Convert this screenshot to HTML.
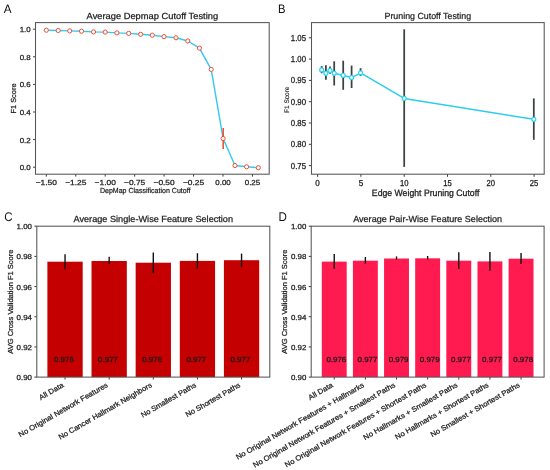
<!DOCTYPE html>
<html><head><meta charset="utf-8"><style>
html,body{margin:0;padding:0;background:#fff;overflow:hidden;}
svg{display:block;font-family:"Liberation Sans", sans-serif;will-change:transform;text-rendering:geometricPrecision;}
</style></head><body>
<svg width="550" height="470" viewBox="0 0 550 470">
<rect width="550" height="470" fill="#fff"/>
<text x="152.35" y="19.20" font-size="8.85" text-anchor="middle" fill="#1e1e1e" stroke="#1e1e1e" stroke-width="0.25" textLength="131.49" lengthAdjust="spacingAndGlyphs" >Average Depmap Cutoff Testing</text>
<text transform="translate(3.8,12.6) scale(0.96,1)" font-size="12.2" fill="#111">A</text>
<line x1="33.10" y1="167.20" x2="35.5" y2="167.20" stroke="#3a3a3a" stroke-width="1.0"/>
<text x="30.66" y="170.15" font-size="7.3" text-anchor="end" fill="#1e1e1e" stroke="#1e1e1e" stroke-width="0.25" textLength="11.01" lengthAdjust="spacingAndGlyphs" >0.0</text>
<line x1="33.10" y1="139.60" x2="35.5" y2="139.60" stroke="#3a3a3a" stroke-width="1.0"/>
<text x="30.66" y="142.55" font-size="7.3" text-anchor="end" fill="#1e1e1e" stroke="#1e1e1e" stroke-width="0.25" textLength="11.01" lengthAdjust="spacingAndGlyphs" >0.2</text>
<line x1="33.10" y1="112.00" x2="35.5" y2="112.00" stroke="#3a3a3a" stroke-width="1.0"/>
<text x="30.66" y="114.95" font-size="7.3" text-anchor="end" fill="#1e1e1e" stroke="#1e1e1e" stroke-width="0.25" textLength="11.01" lengthAdjust="spacingAndGlyphs" >0.4</text>
<line x1="33.10" y1="84.40" x2="35.5" y2="84.40" stroke="#3a3a3a" stroke-width="1.0"/>
<text x="30.66" y="87.35" font-size="7.3" text-anchor="end" fill="#1e1e1e" stroke="#1e1e1e" stroke-width="0.25" textLength="11.01" lengthAdjust="spacingAndGlyphs" >0.6</text>
<line x1="33.10" y1="56.80" x2="35.5" y2="56.80" stroke="#3a3a3a" stroke-width="1.0"/>
<text x="30.66" y="59.75" font-size="7.3" text-anchor="end" fill="#1e1e1e" stroke="#1e1e1e" stroke-width="0.25" textLength="11.01" lengthAdjust="spacingAndGlyphs" >0.8</text>
<line x1="33.10" y1="29.20" x2="35.5" y2="29.20" stroke="#3a3a3a" stroke-width="1.0"/>
<text x="30.66" y="32.15" font-size="7.3" text-anchor="end" fill="#1e1e1e" stroke="#1e1e1e" stroke-width="0.25" textLength="11.01" lengthAdjust="spacingAndGlyphs" >1.0</text>
<line x1="46.30" y1="174.2" x2="46.30" y2="176.6" stroke="#3a3a3a" stroke-width="1.0"/>
<text x="46.30" y="184.80" font-size="7.3" text-anchor="middle" fill="#1e1e1e" stroke="#1e1e1e" stroke-width="0.25" textLength="21.21" lengthAdjust="spacingAndGlyphs" >−1.50</text>
<line x1="75.75" y1="174.2" x2="75.75" y2="176.6" stroke="#3a3a3a" stroke-width="1.0"/>
<text x="75.75" y="184.80" font-size="7.3" text-anchor="middle" fill="#1e1e1e" stroke="#1e1e1e" stroke-width="0.25" textLength="21.21" lengthAdjust="spacingAndGlyphs" >−1.25</text>
<line x1="105.20" y1="174.2" x2="105.20" y2="176.6" stroke="#3a3a3a" stroke-width="1.0"/>
<text x="105.20" y="184.80" font-size="7.3" text-anchor="middle" fill="#1e1e1e" stroke="#1e1e1e" stroke-width="0.25" textLength="21.21" lengthAdjust="spacingAndGlyphs" >−1.00</text>
<line x1="134.65" y1="174.2" x2="134.65" y2="176.6" stroke="#3a3a3a" stroke-width="1.0"/>
<text x="134.65" y="184.80" font-size="7.3" text-anchor="middle" fill="#1e1e1e" stroke="#1e1e1e" stroke-width="0.25" textLength="21.21" lengthAdjust="spacingAndGlyphs" >−0.75</text>
<line x1="164.10" y1="174.2" x2="164.10" y2="176.6" stroke="#3a3a3a" stroke-width="1.0"/>
<text x="164.10" y="184.80" font-size="7.3" text-anchor="middle" fill="#1e1e1e" stroke="#1e1e1e" stroke-width="0.25" textLength="21.21" lengthAdjust="spacingAndGlyphs" >−0.50</text>
<line x1="193.55" y1="174.2" x2="193.55" y2="176.6" stroke="#3a3a3a" stroke-width="1.0"/>
<text x="193.55" y="184.80" font-size="7.3" text-anchor="middle" fill="#1e1e1e" stroke="#1e1e1e" stroke-width="0.25" textLength="21.21" lengthAdjust="spacingAndGlyphs" >−0.25</text>
<line x1="223.00" y1="174.2" x2="223.00" y2="176.6" stroke="#3a3a3a" stroke-width="1.0"/>
<text x="223.00" y="184.80" font-size="7.3" text-anchor="middle" fill="#1e1e1e" stroke="#1e1e1e" stroke-width="0.25" textLength="15.41" lengthAdjust="spacingAndGlyphs" >0.00</text>
<line x1="252.45" y1="174.2" x2="252.45" y2="176.6" stroke="#3a3a3a" stroke-width="1.0"/>
<text x="252.45" y="184.80" font-size="7.3" text-anchor="middle" fill="#1e1e1e" stroke="#1e1e1e" stroke-width="0.25" textLength="15.41" lengthAdjust="spacingAndGlyphs" >0.25</text>
<text x="145.20" y="192.90" font-size="7.4" text-anchor="middle" fill="#1e1e1e" stroke="#1e1e1e" stroke-width="0.22" textLength="90.50" lengthAdjust="spacingAndGlyphs" >DepMap Classification Cutoff</text>
<text transform="translate(16.40,98.50) rotate(-90)" font-size="7.3" text-anchor="middle" fill="#1e1e1e" stroke="#1e1e1e" stroke-width="0.25" textLength="29.96" lengthAdjust="spacingAndGlyphs">F1 Score</text>
<polyline points="46.3,30.2 58.2,30.5 69.7,30.9 81.5,31.2 93.5,31.9 105.2,32.1 116.9,32.9 128.7,33.4 140.6,34.3 152.3,35.2 164.0,36.6 176.0,37.8 187.8,41.0 199.4,48.1 211.2,69.4 223.1,138.5 235.0,165.5 246.6,166.8 258.3,167.7" fill="none" stroke="#36c8ef" stroke-width="1.45" stroke-linejoin="round"/>
<line x1="223.2" y1="127.9" x2="223.2" y2="149.0" stroke="#ee4a2c" stroke-width="1.5"/>
<circle cx="46.3" cy="30.2" r="2.1" fill="#fff" stroke="#ee5034" stroke-width="1.0"/>
<circle cx="58.2" cy="30.5" r="2.1" fill="#fff" stroke="#ee5034" stroke-width="1.0"/>
<circle cx="69.7" cy="30.9" r="2.1" fill="#fff" stroke="#ee5034" stroke-width="1.0"/>
<circle cx="81.5" cy="31.2" r="2.1" fill="#fff" stroke="#ee5034" stroke-width="1.0"/>
<circle cx="93.5" cy="31.9" r="2.1" fill="#fff" stroke="#ee5034" stroke-width="1.0"/>
<circle cx="105.2" cy="32.1" r="2.1" fill="#fff" stroke="#ee5034" stroke-width="1.0"/>
<circle cx="116.9" cy="32.9" r="2.1" fill="#fff" stroke="#ee5034" stroke-width="1.0"/>
<circle cx="128.7" cy="33.4" r="2.1" fill="#fff" stroke="#ee5034" stroke-width="1.0"/>
<circle cx="140.6" cy="34.3" r="2.1" fill="#fff" stroke="#ee5034" stroke-width="1.0"/>
<circle cx="152.3" cy="35.2" r="2.1" fill="#fff" stroke="#ee5034" stroke-width="1.0"/>
<circle cx="164.0" cy="36.6" r="2.1" fill="#fff" stroke="#ee5034" stroke-width="1.0"/>
<circle cx="176.0" cy="37.8" r="2.1" fill="#fff" stroke="#ee5034" stroke-width="1.0"/>
<circle cx="187.8" cy="41.0" r="2.1" fill="#fff" stroke="#ee5034" stroke-width="1.0"/>
<circle cx="199.4" cy="48.1" r="2.1" fill="#fff" stroke="#ee5034" stroke-width="1.0"/>
<circle cx="211.2" cy="69.4" r="2.1" fill="#fff" stroke="#ee5034" stroke-width="1.0"/>
<circle cx="223.1" cy="138.5" r="2.1" fill="#fff" stroke="#ee5034" stroke-width="1.0"/>
<circle cx="235.0" cy="165.5" r="2.1" fill="#fff" stroke="#ee5034" stroke-width="1.0"/>
<circle cx="246.6" cy="166.8" r="2.1" fill="#fff" stroke="#ee5034" stroke-width="1.0"/>
<circle cx="258.3" cy="167.7" r="2.1" fill="#fff" stroke="#ee5034" stroke-width="1.0"/>
<rect x="35.5" y="22.6" width="233.70" height="151.60" fill="none" stroke="#555" stroke-width="1.05"/>
<text x="427.80" y="18.60" font-size="8.9" text-anchor="middle" fill="#1e1e1e" stroke="#1e1e1e" stroke-width="0.22" textLength="86.50" lengthAdjust="spacingAndGlyphs" >Pruning Cutoff Testing</text>
<text transform="translate(277.9,12.6) scale(0.92,1)" font-size="12.2" fill="#111">B</text>
<line x1="308.90" y1="165.60" x2="311.5" y2="165.60" stroke="#3a3a3a" stroke-width="1.0"/>
<text x="306.00" y="168.60" font-size="8.7" text-anchor="end" fill="#1e1e1e" stroke="#1e1e1e" stroke-width="0.28" textLength="15.20" lengthAdjust="spacingAndGlyphs" >0.75</text>
<line x1="308.90" y1="144.30" x2="311.5" y2="144.30" stroke="#3a3a3a" stroke-width="1.0"/>
<text x="306.00" y="147.30" font-size="8.7" text-anchor="end" fill="#1e1e1e" stroke="#1e1e1e" stroke-width="0.28" textLength="15.20" lengthAdjust="spacingAndGlyphs" >0.80</text>
<line x1="308.90" y1="123.00" x2="311.5" y2="123.00" stroke="#3a3a3a" stroke-width="1.0"/>
<text x="306.00" y="126.00" font-size="8.7" text-anchor="end" fill="#1e1e1e" stroke="#1e1e1e" stroke-width="0.28" textLength="15.20" lengthAdjust="spacingAndGlyphs" >0.85</text>
<line x1="308.90" y1="101.70" x2="311.5" y2="101.70" stroke="#3a3a3a" stroke-width="1.0"/>
<text x="306.00" y="104.70" font-size="8.7" text-anchor="end" fill="#1e1e1e" stroke="#1e1e1e" stroke-width="0.28" textLength="15.20" lengthAdjust="spacingAndGlyphs" >0.90</text>
<line x1="308.90" y1="80.40" x2="311.5" y2="80.40" stroke="#3a3a3a" stroke-width="1.0"/>
<text x="306.00" y="83.40" font-size="8.7" text-anchor="end" fill="#1e1e1e" stroke="#1e1e1e" stroke-width="0.28" textLength="15.20" lengthAdjust="spacingAndGlyphs" >0.95</text>
<line x1="308.90" y1="59.10" x2="311.5" y2="59.10" stroke="#3a3a3a" stroke-width="1.0"/>
<text x="306.00" y="62.10" font-size="8.7" text-anchor="end" fill="#1e1e1e" stroke="#1e1e1e" stroke-width="0.28" textLength="15.20" lengthAdjust="spacingAndGlyphs" >1.00</text>
<line x1="308.90" y1="37.80" x2="311.5" y2="37.80" stroke="#3a3a3a" stroke-width="1.0"/>
<text x="306.00" y="40.80" font-size="8.7" text-anchor="end" fill="#1e1e1e" stroke="#1e1e1e" stroke-width="0.28" textLength="15.20" lengthAdjust="spacingAndGlyphs" >1.05</text>
<line x1="317.60" y1="174.2" x2="317.60" y2="176.79999999999998" stroke="#3a3a3a" stroke-width="1.0"/>
<text x="317.60" y="185.80" font-size="8.7" text-anchor="middle" fill="#1e1e1e" stroke="#1e1e1e" stroke-width="0.28" textLength="4.50" lengthAdjust="spacingAndGlyphs" >0</text>
<line x1="360.90" y1="174.2" x2="360.90" y2="176.79999999999998" stroke="#3a3a3a" stroke-width="1.0"/>
<text x="360.90" y="185.80" font-size="8.7" text-anchor="middle" fill="#1e1e1e" stroke="#1e1e1e" stroke-width="0.28" textLength="4.50" lengthAdjust="spacingAndGlyphs" >5</text>
<line x1="404.20" y1="174.2" x2="404.20" y2="176.79999999999998" stroke="#3a3a3a" stroke-width="1.0"/>
<text x="404.20" y="185.80" font-size="8.7" text-anchor="middle" fill="#1e1e1e" stroke="#1e1e1e" stroke-width="0.28" textLength="8.50" lengthAdjust="spacingAndGlyphs" >10</text>
<line x1="447.50" y1="174.2" x2="447.50" y2="176.79999999999998" stroke="#3a3a3a" stroke-width="1.0"/>
<text x="447.50" y="185.80" font-size="8.7" text-anchor="middle" fill="#1e1e1e" stroke="#1e1e1e" stroke-width="0.28" textLength="8.50" lengthAdjust="spacingAndGlyphs" >15</text>
<line x1="490.80" y1="174.2" x2="490.80" y2="176.79999999999998" stroke="#3a3a3a" stroke-width="1.0"/>
<text x="490.80" y="185.80" font-size="8.7" text-anchor="middle" fill="#1e1e1e" stroke="#1e1e1e" stroke-width="0.28" textLength="8.50" lengthAdjust="spacingAndGlyphs" >20</text>
<line x1="534.10" y1="174.2" x2="534.10" y2="176.79999999999998" stroke="#3a3a3a" stroke-width="1.0"/>
<text x="534.10" y="185.80" font-size="8.7" text-anchor="middle" fill="#1e1e1e" stroke="#1e1e1e" stroke-width="0.28" textLength="8.50" lengthAdjust="spacingAndGlyphs" >25</text>
<text x="425.60" y="196.00" font-size="9.2" text-anchor="middle" fill="#1e1e1e" stroke="#1e1e1e" stroke-width="0.3" textLength="107.50" lengthAdjust="spacingAndGlyphs" >Edge Weight Pruning Cutoff</text>
<text transform="translate(289.10,99.80) rotate(-90)" font-size="6.6" text-anchor="middle" fill="#1e1e1e" stroke="#1e1e1e" stroke-width="0.15" textLength="26.50" lengthAdjust="spacingAndGlyphs">F1 Score</text>
<line x1="321.7" y1="66.1" x2="321.7" y2="73.3" stroke="#3a4242" stroke-width="1.75"/>
<line x1="325.9" y1="65.2" x2="325.9" y2="79.7" stroke="#3a4242" stroke-width="1.75"/>
<line x1="330.0" y1="66.5" x2="330.0" y2="73.8" stroke="#3a4242" stroke-width="1.75"/>
<line x1="334.2" y1="61.3" x2="334.2" y2="85.5" stroke="#3a4242" stroke-width="1.75"/>
<line x1="343.2" y1="60.7" x2="343.2" y2="89.8" stroke="#3a4242" stroke-width="1.75"/>
<line x1="351.6" y1="65.6" x2="351.6" y2="88.0" stroke="#3a4242" stroke-width="1.75"/>
<line x1="360.6" y1="68.2" x2="360.6" y2="75.9" stroke="#3a4242" stroke-width="1.75"/>
<line x1="404.2" y1="29.3" x2="404.2" y2="166.9" stroke="#3a4242" stroke-width="1.75"/>
<line x1="533.8" y1="98.4" x2="533.8" y2="139.8" stroke="#3a4242" stroke-width="1.75"/>
<polyline points="321.7,69.9 325.9,73.3 330.0,70.4 334.2,73.3 343.2,75.4 351.6,77.6 360.6,72.9 404.2,98.4 533.8,119.3" fill="none" stroke="#2ccdee" stroke-width="1.5" stroke-linejoin="round"/>
<circle cx="321.7" cy="69.9" r="2.0" fill="#fff" stroke="#2cd4ee" stroke-width="1.2"/>
<circle cx="325.9" cy="73.3" r="2.0" fill="#fff" stroke="#2cd4ee" stroke-width="1.2"/>
<circle cx="330.0" cy="70.4" r="2.0" fill="#fff" stroke="#2cd4ee" stroke-width="1.2"/>
<circle cx="334.2" cy="73.3" r="2.0" fill="#fff" stroke="#2cd4ee" stroke-width="1.2"/>
<circle cx="343.2" cy="75.4" r="2.0" fill="#fff" stroke="#2cd4ee" stroke-width="1.2"/>
<circle cx="351.6" cy="77.6" r="2.0" fill="#fff" stroke="#2cd4ee" stroke-width="1.2"/>
<circle cx="360.6" cy="72.9" r="2.0" fill="#fff" stroke="#2cd4ee" stroke-width="1.2"/>
<circle cx="404.2" cy="98.4" r="2.0" fill="#fff" stroke="#2cd4ee" stroke-width="1.2"/>
<circle cx="533.8" cy="119.3" r="2.0" fill="#fff" stroke="#2cd4ee" stroke-width="1.2"/>
<rect x="311.5" y="22.6" width="232.70" height="151.60" fill="none" stroke="#555" stroke-width="1.05"/>
<rect x="47.39" y="261.70" width="35.30" height="115.40" fill="#c40000"/>
<rect x="91.52" y="261.00" width="35.30" height="116.10" fill="#c40000"/>
<rect x="135.65" y="262.70" width="35.30" height="114.40" fill="#c40000"/>
<rect x="179.78" y="260.90" width="35.30" height="116.20" fill="#c40000"/>
<rect x="223.91" y="260.20" width="35.30" height="116.90" fill="#c40000"/>
<line x1="65.04" y1="254.3" x2="65.04" y2="269.2" stroke="#111" stroke-width="1.4"/>
<line x1="109.17" y1="256.8" x2="109.17" y2="264.0" stroke="#111" stroke-width="1.4"/>
<line x1="153.30" y1="252.5" x2="153.30" y2="273.6" stroke="#111" stroke-width="1.4"/>
<line x1="197.43" y1="253.2" x2="197.43" y2="268.4" stroke="#111" stroke-width="1.4"/>
<line x1="241.56" y1="253.6" x2="241.56" y2="266.8" stroke="#111" stroke-width="1.4"/>
<text x="54.01" y="362.01" font-size="7.3" text-anchor="start" fill="#1a1a1a" stroke="#1a1a1a" stroke-width="0.25" textLength="19.81" lengthAdjust="spacingAndGlyphs" >0.976</text>
<text x="98.14" y="362.01" font-size="7.3" text-anchor="start" fill="#1a1a1a" stroke="#1a1a1a" stroke-width="0.25" textLength="19.81" lengthAdjust="spacingAndGlyphs" >0.977</text>
<text x="142.27" y="362.01" font-size="7.3" text-anchor="start" fill="#1a1a1a" stroke="#1a1a1a" stroke-width="0.25" textLength="19.81" lengthAdjust="spacingAndGlyphs" >0.976</text>
<text x="186.40" y="362.01" font-size="7.3" text-anchor="start" fill="#1a1a1a" stroke="#1a1a1a" stroke-width="0.25" textLength="19.81" lengthAdjust="spacingAndGlyphs" >0.977</text>
<text x="230.53" y="362.01" font-size="7.3" text-anchor="start" fill="#1a1a1a" stroke="#1a1a1a" stroke-width="0.25" textLength="19.81" lengthAdjust="spacingAndGlyphs" >0.977</text>
<line x1="34.40" y1="377.10" x2="36.8" y2="377.10" stroke="#3a3a3a" stroke-width="1.0"/>
<text x="31.96" y="380.05" font-size="7.3" text-anchor="end" fill="#1e1e1e" stroke="#1e1e1e" stroke-width="0.25" textLength="15.41" lengthAdjust="spacingAndGlyphs" >0.90</text>
<line x1="34.40" y1="346.92" x2="36.8" y2="346.92" stroke="#3a3a3a" stroke-width="1.0"/>
<text x="31.96" y="349.87" font-size="7.3" text-anchor="end" fill="#1e1e1e" stroke="#1e1e1e" stroke-width="0.25" textLength="15.41" lengthAdjust="spacingAndGlyphs" >0.92</text>
<line x1="34.40" y1="316.74" x2="36.8" y2="316.74" stroke="#3a3a3a" stroke-width="1.0"/>
<text x="31.96" y="319.69" font-size="7.3" text-anchor="end" fill="#1e1e1e" stroke="#1e1e1e" stroke-width="0.25" textLength="15.41" lengthAdjust="spacingAndGlyphs" >0.94</text>
<line x1="34.40" y1="286.56" x2="36.8" y2="286.56" stroke="#3a3a3a" stroke-width="1.0"/>
<text x="31.96" y="289.51" font-size="7.3" text-anchor="end" fill="#1e1e1e" stroke="#1e1e1e" stroke-width="0.25" textLength="15.41" lengthAdjust="spacingAndGlyphs" >0.96</text>
<line x1="34.40" y1="256.38" x2="36.8" y2="256.38" stroke="#3a3a3a" stroke-width="1.0"/>
<text x="31.96" y="259.33" font-size="7.3" text-anchor="end" fill="#1e1e1e" stroke="#1e1e1e" stroke-width="0.25" textLength="15.41" lengthAdjust="spacingAndGlyphs" >0.98</text>
<line x1="34.40" y1="226.20" x2="36.8" y2="226.20" stroke="#3a3a3a" stroke-width="1.0"/>
<text x="31.96" y="229.15" font-size="7.3" text-anchor="end" fill="#1e1e1e" stroke="#1e1e1e" stroke-width="0.25" textLength="15.41" lengthAdjust="spacingAndGlyphs" >1.00</text>
<line x1="65.04" y1="377.1" x2="65.04" y2="379.5" stroke="#3a3a3a" stroke-width="1.0"/>
<line x1="109.17" y1="377.1" x2="109.17" y2="379.5" stroke="#3a3a3a" stroke-width="1.0"/>
<line x1="153.30" y1="377.1" x2="153.30" y2="379.5" stroke="#3a3a3a" stroke-width="1.0"/>
<line x1="197.43" y1="377.1" x2="197.43" y2="379.5" stroke="#3a3a3a" stroke-width="1.0"/>
<line x1="241.56" y1="377.1" x2="241.56" y2="379.5" stroke="#3a3a3a" stroke-width="1.0"/>
<rect x="36.8" y="226.2" width="233.00" height="150.90" fill="none" stroke="#555" stroke-width="1.05"/>
<text x="153.30" y="222.20" font-size="8.85" text-anchor="middle" fill="#1e1e1e" stroke="#1e1e1e" stroke-width="0.25" textLength="159.55" lengthAdjust="spacingAndGlyphs" >Average Single-Wise Feature Selection</text>
<text transform="translate(4.20,221.4) scale(0.92,1)" font-size="12.6" fill="#111">C</text>
<text transform="translate(12.90,301.65) rotate(-90)" font-size="7.3" text-anchor="middle" fill="#1e1e1e" stroke="#1e1e1e" stroke-width="0.25" textLength="104.09" lengthAdjust="spacingAndGlyphs">AVG Cross Validation F1 Score</text>
<text transform="translate(64.32,386.49) rotate(-30)" font-size="7.3" text-anchor="end" fill="#1e1e1e" stroke="#1e1e1e" stroke-width="0.25" textLength="27.30" lengthAdjust="spacingAndGlyphs">All Data</text>
<text transform="translate(108.45,386.49) rotate(-30)" font-size="7.3" text-anchor="end" fill="#1e1e1e" stroke="#1e1e1e" stroke-width="0.25" textLength="101.74" lengthAdjust="spacingAndGlyphs">No Original Network Features</text>
<text transform="translate(152.58,386.49) rotate(-30)" font-size="7.3" text-anchor="end" fill="#1e1e1e" stroke="#1e1e1e" stroke-width="0.25" textLength="106.71" lengthAdjust="spacingAndGlyphs">No Cancer Hallmark Neighbors</text>
<text transform="translate(196.71,386.49) rotate(-30)" font-size="7.3" text-anchor="end" fill="#1e1e1e" stroke="#1e1e1e" stroke-width="0.25" textLength="62.41" lengthAdjust="spacingAndGlyphs">No Smallest Paths</text>
<text transform="translate(240.84,386.49) rotate(-30)" font-size="7.3" text-anchor="end" fill="#1e1e1e" stroke="#1e1e1e" stroke-width="0.25" textLength="61.76" lengthAdjust="spacingAndGlyphs">No Shortest Paths</text>
<rect x="321.79" y="261.60" width="24.91" height="115.50" fill="#ff1a4f"/>
<rect x="352.92" y="260.70" width="24.91" height="116.40" fill="#ff1a4f"/>
<rect x="384.06" y="258.50" width="24.91" height="118.60" fill="#ff1a4f"/>
<rect x="415.20" y="258.30" width="24.91" height="118.80" fill="#ff1a4f"/>
<rect x="446.33" y="260.70" width="24.91" height="116.40" fill="#ff1a4f"/>
<rect x="477.47" y="261.40" width="24.91" height="115.70" fill="#ff1a4f"/>
<rect x="508.60" y="258.70" width="24.91" height="118.40" fill="#ff1a4f"/>
<line x1="334.24" y1="254.1" x2="334.24" y2="268.8" stroke="#111" stroke-width="1.4"/>
<line x1="365.38" y1="257.0" x2="365.38" y2="263.6" stroke="#111" stroke-width="1.4"/>
<line x1="396.51" y1="256.4" x2="396.51" y2="259.6" stroke="#111" stroke-width="1.4"/>
<line x1="427.65" y1="256.0" x2="427.65" y2="259.6" stroke="#111" stroke-width="1.4"/>
<line x1="458.79" y1="252.3" x2="458.79" y2="268.9" stroke="#111" stroke-width="1.4"/>
<line x1="489.92" y1="251.9" x2="489.92" y2="270.8" stroke="#111" stroke-width="1.4"/>
<line x1="521.06" y1="253.0" x2="521.06" y2="264.1" stroke="#111" stroke-width="1.4"/>
<text x="326.46" y="362.01" font-size="7.3" text-anchor="start" fill="#1a1a1a" stroke="#1a1a1a" stroke-width="0.25" textLength="19.81" lengthAdjust="spacingAndGlyphs" >0.976</text>
<text x="357.59" y="362.01" font-size="7.3" text-anchor="start" fill="#1a1a1a" stroke="#1a1a1a" stroke-width="0.25" textLength="19.81" lengthAdjust="spacingAndGlyphs" >0.977</text>
<text x="388.73" y="362.01" font-size="7.3" text-anchor="start" fill="#1a1a1a" stroke="#1a1a1a" stroke-width="0.25" textLength="19.81" lengthAdjust="spacingAndGlyphs" >0.979</text>
<text x="419.87" y="362.01" font-size="7.3" text-anchor="start" fill="#1a1a1a" stroke="#1a1a1a" stroke-width="0.25" textLength="19.81" lengthAdjust="spacingAndGlyphs" >0.979</text>
<text x="451.00" y="362.01" font-size="7.3" text-anchor="start" fill="#1a1a1a" stroke="#1a1a1a" stroke-width="0.25" textLength="19.81" lengthAdjust="spacingAndGlyphs" >0.977</text>
<text x="482.14" y="362.01" font-size="7.3" text-anchor="start" fill="#1a1a1a" stroke="#1a1a1a" stroke-width="0.25" textLength="19.81" lengthAdjust="spacingAndGlyphs" >0.977</text>
<text x="513.28" y="362.01" font-size="7.3" text-anchor="start" fill="#1a1a1a" stroke="#1a1a1a" stroke-width="0.25" textLength="19.81" lengthAdjust="spacingAndGlyphs" >0.978</text>
<line x1="308.80" y1="377.10" x2="311.2" y2="377.10" stroke="#3a3a3a" stroke-width="1.0"/>
<text x="306.36" y="380.05" font-size="7.3" text-anchor="end" fill="#1e1e1e" stroke="#1e1e1e" stroke-width="0.25" textLength="15.41" lengthAdjust="spacingAndGlyphs" >0.90</text>
<line x1="308.80" y1="346.92" x2="311.2" y2="346.92" stroke="#3a3a3a" stroke-width="1.0"/>
<text x="306.36" y="349.87" font-size="7.3" text-anchor="end" fill="#1e1e1e" stroke="#1e1e1e" stroke-width="0.25" textLength="15.41" lengthAdjust="spacingAndGlyphs" >0.92</text>
<line x1="308.80" y1="316.74" x2="311.2" y2="316.74" stroke="#3a3a3a" stroke-width="1.0"/>
<text x="306.36" y="319.69" font-size="7.3" text-anchor="end" fill="#1e1e1e" stroke="#1e1e1e" stroke-width="0.25" textLength="15.41" lengthAdjust="spacingAndGlyphs" >0.94</text>
<line x1="308.80" y1="286.56" x2="311.2" y2="286.56" stroke="#3a3a3a" stroke-width="1.0"/>
<text x="306.36" y="289.51" font-size="7.3" text-anchor="end" fill="#1e1e1e" stroke="#1e1e1e" stroke-width="0.25" textLength="15.41" lengthAdjust="spacingAndGlyphs" >0.96</text>
<line x1="308.80" y1="256.38" x2="311.2" y2="256.38" stroke="#3a3a3a" stroke-width="1.0"/>
<text x="306.36" y="259.33" font-size="7.3" text-anchor="end" fill="#1e1e1e" stroke="#1e1e1e" stroke-width="0.25" textLength="15.41" lengthAdjust="spacingAndGlyphs" >0.98</text>
<line x1="308.80" y1="226.20" x2="311.2" y2="226.20" stroke="#3a3a3a" stroke-width="1.0"/>
<text x="306.36" y="229.15" font-size="7.3" text-anchor="end" fill="#1e1e1e" stroke="#1e1e1e" stroke-width="0.25" textLength="15.41" lengthAdjust="spacingAndGlyphs" >1.00</text>
<line x1="334.24" y1="377.1" x2="334.24" y2="379.5" stroke="#3a3a3a" stroke-width="1.0"/>
<line x1="365.38" y1="377.1" x2="365.38" y2="379.5" stroke="#3a3a3a" stroke-width="1.0"/>
<line x1="396.51" y1="377.1" x2="396.51" y2="379.5" stroke="#3a3a3a" stroke-width="1.0"/>
<line x1="427.65" y1="377.1" x2="427.65" y2="379.5" stroke="#3a3a3a" stroke-width="1.0"/>
<line x1="458.79" y1="377.1" x2="458.79" y2="379.5" stroke="#3a3a3a" stroke-width="1.0"/>
<line x1="489.92" y1="377.1" x2="489.92" y2="379.5" stroke="#3a3a3a" stroke-width="1.0"/>
<line x1="521.06" y1="377.1" x2="521.06" y2="379.5" stroke="#3a3a3a" stroke-width="1.0"/>
<rect x="311.2" y="226.2" width="232.90" height="150.90" fill="none" stroke="#555" stroke-width="1.05"/>
<text x="427.65" y="222.20" font-size="8.85" text-anchor="middle" fill="#1e1e1e" stroke="#1e1e1e" stroke-width="0.25" textLength="148.94" lengthAdjust="spacingAndGlyphs" >Average Pair-Wise Feature Selection</text>
<text transform="translate(278.60,221.4) scale(0.92,1)" font-size="12.6" fill="#111">D</text>
<text transform="translate(287.30,301.65) rotate(-90)" font-size="7.3" text-anchor="middle" fill="#1e1e1e" stroke="#1e1e1e" stroke-width="0.25" textLength="104.09" lengthAdjust="spacingAndGlyphs">AVG Cross Validation F1 Score</text>
<text transform="translate(333.52,386.49) rotate(-30)" font-size="7.3" text-anchor="end" fill="#1e1e1e" stroke="#1e1e1e" stroke-width="0.25" textLength="27.30" lengthAdjust="spacingAndGlyphs">All Data</text>
<text transform="translate(364.66,386.49) rotate(-30)" font-size="7.3" text-anchor="end" fill="#1e1e1e" stroke="#1e1e1e" stroke-width="0.25" textLength="146.66" lengthAdjust="spacingAndGlyphs">No Original Network Features + Hallmarks</text>
<text transform="translate(395.79,386.49) rotate(-30)" font-size="7.3" text-anchor="end" fill="#1e1e1e" stroke="#1e1e1e" stroke-width="0.25" textLength="162.74" lengthAdjust="spacingAndGlyphs">No Original Network Features + Smallest Paths</text>
<text transform="translate(426.93,386.49) rotate(-30)" font-size="7.3" text-anchor="end" fill="#1e1e1e" stroke="#1e1e1e" stroke-width="0.25" textLength="162.09" lengthAdjust="spacingAndGlyphs">No Original Network Features + Shortest Paths</text>
<text transform="translate(458.07,386.49) rotate(-30)" font-size="7.3" text-anchor="end" fill="#1e1e1e" stroke="#1e1e1e" stroke-width="0.25" textLength="107.34" lengthAdjust="spacingAndGlyphs">No Hallmarks + Smallest Paths</text>
<text transform="translate(489.20,386.49) rotate(-30)" font-size="7.3" text-anchor="end" fill="#1e1e1e" stroke="#1e1e1e" stroke-width="0.25" textLength="106.69" lengthAdjust="spacingAndGlyphs">No Hallmarks + Shortest Paths</text>
<text transform="translate(520.34,386.49) rotate(-30)" font-size="7.3" text-anchor="end" fill="#1e1e1e" stroke="#1e1e1e" stroke-width="0.25" textLength="101.76" lengthAdjust="spacingAndGlyphs">No Smallest + Shortest Paths</text>
</svg>
</body></html>
